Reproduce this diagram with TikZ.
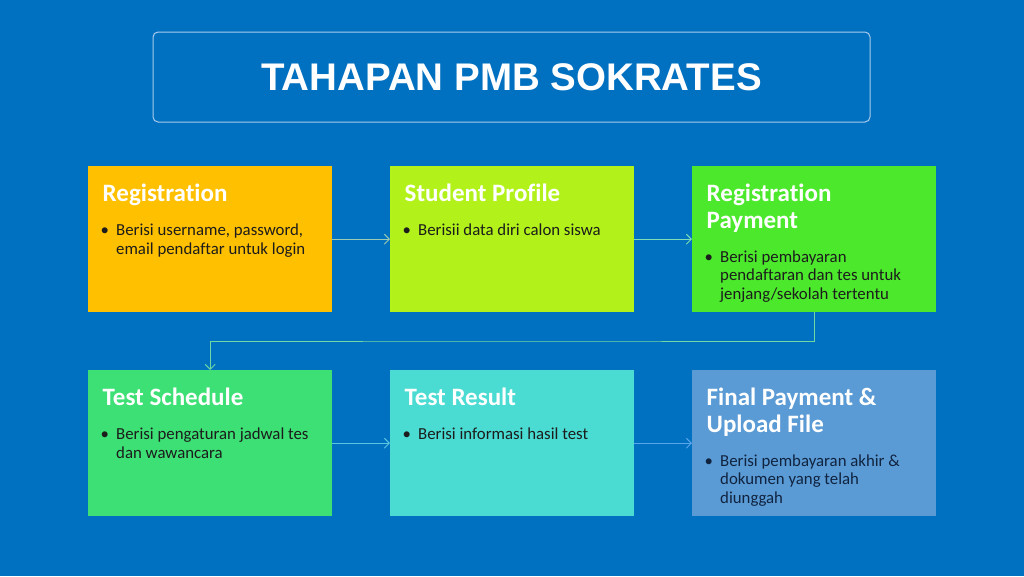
\documentclass[tikz,border=0pt]{standalone}
\usepackage{fontspec}
\setmainfont{Carlito}[Ligatures={NoCommon}]
\newfontfamily\titlefont{Liberation Sans}
\usetikzlibrary{arrows.meta}

\definecolor{bgblue}{HTML}{0070C0}
\definecolor{titleline}{HTML}{A9CCEE}
\definecolor{regOrange}{HTML}{FFC000}
\definecolor{profLime}{HTML}{B2F21A}
\definecolor{payGreen}{HTML}{4CE82C}
\definecolor{schedGreen}{HTML}{3CE074}
\definecolor{resultCyan}{HTML}{4ADCD2}
\definecolor{finalBlue}{HTML}{5B9BD5}
\definecolor{bulletDark}{HTML}{1C1C1C}
\definecolor{bulletNavy}{HTML}{10233F}
\definecolor{arrowA}{HTML}{9CCAB2}
\definecolor{arrowB}{HTML}{7EDDB4}
\definecolor{arrowC}{HTML}{6CD8A4}
\definecolor{arrowD}{HTML}{5CC6E2}
\definecolor{arrowE}{HTML}{5AA6EA}

\newcommand{\stagetext}[3][bulletDark]{%
  \parbox[t][146pt][t]{215pt}{\raggedright\lineskiplimit=-100pt
    \rule{0pt}{35.7pt}{\fontsize{25}{26.5}\selectfont\bfseries\color{white}#2\par}%
    \vspace{15.7pt}%
    {\fontsize{16.8}{18.3}\selectfont\color{#1}\hangindent=13.5pt\hangafter=1
     \noindent\makebox[13.5pt][l]{\hspace{-2pt}\textbullet}#3\par}}}

\begin{document}
\begin{tikzpicture}[x=1pt, y=-1pt,
    stage/.style={anchor=north west, inner xsep=14.5pt, inner ysep=0pt,
                  minimum width=244pt, minimum height=146pt},
    flow/.style={->, line width=1pt},
    >={Straight Barb[length=5pt, width=10pt]}]

  % Draws the background and the title
  \fill[bgblue] (0, 0) rectangle (1024, 576);
  \node[draw=titleline, line width=1pt, rounded corners=5pt,
        minimum width=717pt, minimum height=90pt, text=white,
        font=\titlefont\bfseries\fontsize{38.5}{38.5}\selectfont]
       (title) at (511.5, 77) {TAHAPAN PMB SOKRATES};

  % Draws the first row of stages
  \node[stage, fill=regOrange] (reg) at (88, 166)
       {\stagetext{Registration}{Berisi username, password,\newline email pendaftar untuk login}};
  \node[stage, fill=profLime] (prof) at (390, 166)
       {\stagetext{Student Profile}{Berisii data diri calon siswa}};
  \node[stage, fill=payGreen] (pay) at (692, 166)
       {\stagetext{Registration\\ Payment}{Berisi pembayaran\newline pendaftaran dan tes untuk\newline jenjang/sekolah tertentu}};

  % Draws the second row of stages
  \node[stage, fill=schedGreen] (sched) at (88, 370)
       {\stagetext{Test Schedule}{Berisi pengaturan jadwal tes\newline dan wawancara}};
  \node[stage, fill=resultCyan] (result) at (390, 370)
       {\stagetext{Test Result}{Berisi informasi hasil test}};
  \node[stage, fill=finalBlue] (final) at (692, 370)
       {\stagetext[bulletNavy]{Final Payment \&\\ Upload File}{Berisi pembayaran akhir \&\newline dokumen yang telah\newline diunggah}};

  % Draws the arrows between the stages
  \coordinate (bend) at (512, 341);
  \draw[flow, arrowA] (reg) -- (prof);
  \draw[flow, arrowB] (prof) -- (pay);
  \draw[flow, arrowC] (pay.south) |- (bend) -| (sched.north);
  \draw[flow, arrowD] (sched) -- (result);
  \draw[flow, arrowE] (result) -- (final);
\end{tikzpicture}
\end{document}
